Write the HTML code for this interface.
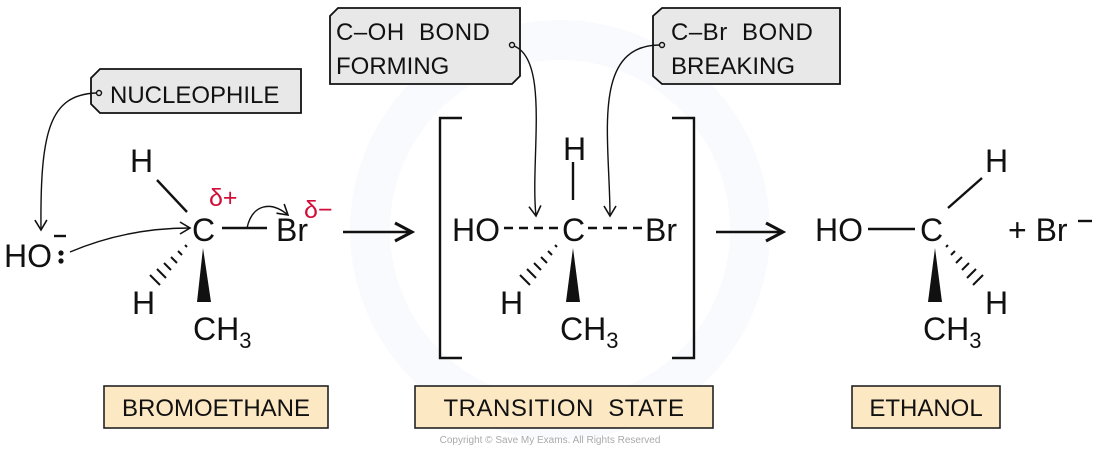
<!DOCTYPE html>
<html><head><meta charset="utf-8"><style>
html,body{margin:0;padding:0;background:#fff;}
svg{display:block;}
text{font-family:"Liberation Sans",sans-serif;fill:#111;}
</style></head><body>
<svg width="1100" height="449" viewBox="0 0 1100 449" xmlns="http://www.w3.org/2000/svg">
<defs>
<marker id="ah" markerWidth="14" markerHeight="14" refX="11" refY="7" orient="auto" markerUnits="userSpaceOnUse">
<path d="M1,1 L11,7 L1,13" fill="none" stroke="#111" stroke-width="1.6"/>
</marker>
<marker id="ahb" markerWidth="22" markerHeight="22" refX="19" refY="11" orient="auto" markerUnits="userSpaceOnUse">
<path d="M2,2 L19,11 L2,20" fill="none" stroke="#111" stroke-width="3"/>
</marker>
</defs>
<!-- watermark -->
<circle cx="560" cy="230" r="190" fill="none" stroke="#f8fafd" stroke-width="40"/>

<g stroke="#111" fill="none" stroke-width="2.2">
<path d="M100,69 L301,69 L301,113 L100,113 L91,104 L91,78 Z" fill="#e8e8e8" stroke-width="1.8"/>
<path d="M338,8 L520,8 L520,76 L512,84 L330,84 L330,16 Z" fill="#e8e8e8" stroke-width="1.8"/>
<path d="M662,8 L840,8 L840,84 L662,84 L653,76 L653,16 Z" fill="#e8e8e8" stroke-width="1.8"/>
</g>
<g fill="none" stroke="#111" stroke-width="1.4">
<circle cx="99" cy="93" r="2.5"/>
<circle cx="512" cy="45" r="2.5"/>
<circle cx="662" cy="45" r="2.5"/>
<path d="M96,93 C50,95 40,130 41,230" marker-end="url(#ah)"/>
<path d="M514,46 C550,60 530,160 536,216" marker-end="url(#ah)"/>
<path d="M660,45 C590,45 610,140 610,216" marker-end="url(#ah)"/>
<path d="M70,252 C110,235 150,228 190,228" marker-end="url(#ah)"/>
<path d="M247,228 C252,205 270,200 288,215" marker-end="url(#ah)"/>
</g>
<text x="110" y="103" font-size="24">NUCLEOPHILE</text>
<text x="336" y="40" font-size="24" letter-spacing="0.5">C–OH&#160;&#160;BOND</text>
<text x="336" y="74" font-size="24">FORMING</text>
<text x="671" y="40" font-size="24" letter-spacing="0.5">C–Br&#160;&#160;BOND</text>
<text x="671" y="74" font-size="24">BREAKING</text>

<g font-size="32">
<text x="4" y="267">HO</text>
<text x="192" y="241">C</text>
<text x="130" y="172">H</text>
<text x="132" y="314">H</text>
<text x="276" y="241">Br</text>
<text x="193" y="340">CH<tspan font-size="22" dy="8">3</tspan></text>
<text x="452" y="241">HO</text>
<text x="562" y="241">C</text>
<text x="563" y="160">H</text>
<text x="500" y="314">H</text>
<text x="645" y="241">Br</text>
<text x="560" y="340">CH<tspan font-size="22" dy="8">3</tspan></text>
<text x="815" y="241">HO</text>
<text x="920" y="241">C</text>
<text x="985" y="172">H</text>
<text x="985" y="314">H</text>
<text x="923" y="340">CH<tspan font-size="22" dy="8">3</tspan></text>
<text x="1008" y="241">+ Br</text>
</g>
<text x="209" y="206" font-size="25" style="fill:#d0103a">δ+</text>
<text x="304" y="218" font-size="25" style="fill:#d0103a">δ−</text>

<g stroke="#111" stroke-width="2.4" fill="none">
<line x1="54" y1="236" x2="66" y2="236"/>
<line x1="1078" y1="221" x2="1092" y2="221"/>
<line x1="157" y1="180" x2="187" y2="212"/>
<line x1="222" y1="228" x2="267" y2="228"/>
<line x1="343" y1="232" x2="412" y2="232" marker-end="url(#ahb)"/>
<line x1="716" y1="232" x2="783" y2="232" marker-end="url(#ahb)"/>
<line x1="573" y1="162" x2="573" y2="200"/>
<line x1="504" y1="228" x2="558" y2="228" stroke-dasharray="9,6"/>
<line x1="588" y1="228" x2="642" y2="228" stroke-dasharray="9,6"/>
<line x1="868" y1="229" x2="915" y2="229"/>
<line x1="948" y1="208" x2="982" y2="178"/>
<path d="M462,118 L440,118 L440,358 L462,358"/>
<path d="M672,118 L694,118 L694,358 L672,358"/>
<path d="M185,245 l2,2 M178,251 l4,4 M171,257 l6,6 M164,263 l7,7 M157,269 l9,9 M150,275 l10,10" stroke-width="2"/>
<path d="M555,245 l2,2 M548,251 l4,4 M541,257 l6,6 M534,263 l7,7 M527,269 l9,9 M520,275 l10,10" stroke-width="2"/>
<path d="M948,245 l-2,2 M955,251 l-4,4 M962,257 l-6,6 M969,263 l-7,7 M976,269 l-9,9 M983,275 l-10,10" stroke-width="2"/>
</g>
<g fill="#111">
<circle cx="61" cy="253" r="2.6"/><circle cx="61" cy="261" r="2.6"/>
<polygon points="203,248 197,302 211,302"/>
<polygon points="573,248 566,302 580,302"/>
<polygon points="935,248 928,302 942,302"/>
</g>

<g stroke="#222" stroke-width="1.6" fill="#fde8c4">
<rect x="104" y="386" width="224" height="42"/>
<rect x="415" y="386" width="298" height="42"/>
<rect x="852" y="386" width="148" height="42"/>
</g>
<text x="216" y="416" font-size="24" text-anchor="middle">BROMOETHANE</text>
<text x="564" y="416" font-size="24" text-anchor="middle" letter-spacing="0.5">TRANSITION&#160;&#160;STATE</text>
<text x="926" y="416" font-size="24" text-anchor="middle">ETHANOL</text>
<text x="550" y="443" font-size="10" text-anchor="middle" style="fill:#aaa">Copyright © Save My Exams. All Rights Reserved</text>
</svg>
</body></html>
